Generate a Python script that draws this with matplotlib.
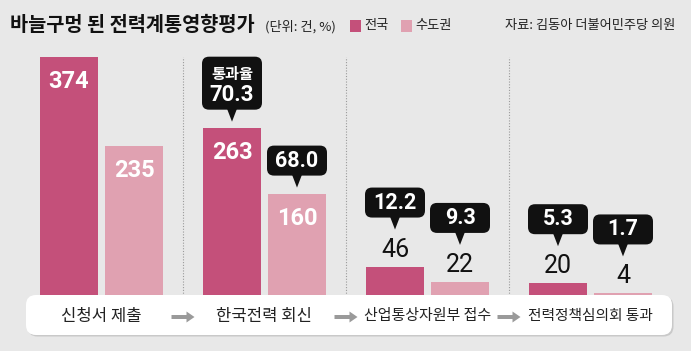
import numpy as np
import matplotlib.pyplot as plt
import matplotlib.patches as mpatches
import matplotlib.transforms as mtransforms
from matplotlib import font_manager as fm

# 단위: 건, %
stages = ['신청서 제출', '한국전력 회신', '산업통상자원부 접수', '전력정책심의회 통과']
nation = [374, 263, 46, 20]
capital = [235, 160, 22, 4]
nation_rate = [None, 70.3, 12.2, 5.3]
capital_rate = [None, 68.0, 9.3, 1.7]


def pick(names):
    for n in names:
        try:
            fm.findfont(n, fallback_to_default=False)
            return n
        except Exception:
            pass
    return 'DejaVu Sans'


NUM = pick(['Liberation Sans Narrow', 'DejaVu Sans Condensed', 'Roboto', 'DejaVu Sans'])
KR = 'Noto Sans CJK KR'
DARK = '#c4507a'
LIGHT = '#e0a1b1'
BG = '#e8e8e8'
W, H = 691, 351

fig = plt.figure(figsize=(W / 100, H / 100), dpi=100)
fig.patch.set_facecolor(BG)
ax = fig.add_axes([0, 0, 1, 1])
ax.axis('off')

# 픽셀 기준: 그룹 간격 163px, 1건 = 0.64px, 기준선 y=296px
gx, gy, base, x0 = 163, 0.64, 296, 101.5
ax.set_xlim(-x0 / gx, (W - x0) / gx)
ax.set_ylim(-(H - base) / gy, base / gy)

x = np.arange(len(stages))
bw = 58 / gx
off = 32.5 / gx
ax.bar(x - off, nation, width=bw, color=DARK, zorder=2)
ax.bar(x + off, capital, width=bw, color=LIGHT, zorder=2)

ax.vlines(x[:-1] + 0.5, 0, max(nation), colors='#9a9a9a',
          linestyles=(0, (1, 1.5)), lw=0.8, zorder=1)

# 막대 값
for xs, vals in ((x - off, nation), (x + off, capital)):
    for xi, v in zip(xs, vals):
        if v > 100:
            ax.annotate(str(v), (xi, v), xytext=(0, -25), textcoords='offset pixels',
                        ha='center', va='center', color='white', fontsize=17,
                        fontweight='bold', family=NUM, zorder=4)
        else:
            ax.annotate(str(v), (xi, v), xytext=(0, 17), textcoords='offset pixels',
                        ha='center', va='center', color='#111111', fontsize=18,
                        family=NUM, zorder=4)


def callout(xi, v, rate, head=None):
    tip = 6 if v > 100 else 37
    tr = mtransforms.Affine2D().translate(0, tip) + \
        mtransforms.ScaledTranslation(xi, v, ax.transData)
    h = 53 if head else 30
    box = mpatches.FancyBboxPatch((-30, 12), 60, h,
                                  boxstyle='round,pad=0,rounding_size=7',
                                  fc='#111111', ec='none', transform=tr, zorder=5)
    tri = mpatches.Polygon([(-5, 13), (5, 13), (0, 0)], closed=True,
                           fc='#111111', ec='none', transform=tr, zorder=5)
    ax.add_patch(box)
    ax.add_patch(tri)
    if head:
        ax.text(0, 48, head, transform=tr, ha='center', va='center', color='white',
                fontsize=11, fontweight='bold', family=KR, zorder=6)
        ax.text(0, 27, f'{rate:.1f}', transform=tr, ha='center', va='center',
                color='white', fontsize=16, fontweight='bold', family=NUM, zorder=6)
    else:
        ax.text(0, 27, f'{rate:.1f}', transform=tr, ha='center', va='center',
                color='white', fontsize=15.5, fontweight='bold', family=NUM, zorder=6)


for i in range(len(stages)):
    if nation_rate[i] is not None:
        callout(x[i] - off, nation[i], nation_rate[i], head='통과율' if i == 1 else None)
    if capital_rate[i] is not None:
        callout(x[i] + off, capital[i], capital_rate[i])

# 하단 단계 상자 (픽셀, 위에서부터)
pix = mtransforms.Affine2D().scale(1, -1).translate(0, H)
shadow = mpatches.FancyBboxPatch((27.5, 296.5), 646, 40,
                                 boxstyle='round,pad=0,rounding_size=10',
                                 fc='#c9c9c9', ec='none', transform=pix, zorder=6, clip_on=False)
box = mpatches.FancyBboxPatch((26, 295), 646, 40,
                              boxstyle='round,pad=0,rounding_size=10',
                              fc='white', ec='none', transform=pix, zorder=7, clip_on=False)
ax.add_patch(shadow)
ax.add_patch(box)

btr = mtransforms.blended_transform_factory(ax.transData, pix)
sizes = [12, 12, 10.8, 10.6]
for i, s in enumerate(stages):
    ax.text(x[i], 316, s, transform=btr, ha='center', va='center', fontsize=sizes[i],
            family=KR, color='#222222', zorder=8)
for i in range(len(stages) - 1):
    cx = ax.transData.transform((x[i] + 0.5, 0))[0]
    arr = mpatches.FancyArrow(cx - 11.5, 317, 23, 0, width=4, head_width=11,
                              head_length=8, length_includes_head=True,
                              fc='#9a9a9a', ec='none', transform=pix, zorder=8)
    ax.add_patch(arr)

# 제목, 범례, 출처
ax.text(10, 25, '바늘구멍 된 전력계통영향평가', transform=pix, ha='left', va='center',
        fontsize=14.2, fontweight='bold', family=KR, color='#111111')
ax.text(265, 27, '(단위: 건, %)', transform=pix, ha='left', va='center',
        fontsize=9.5, family=KR, color='#222222')
for sx, c, lab in ((350, DARK, '전국'), (401, LIGHT, '수도권')):
    ax.add_patch(mpatches.Rectangle((sx, 20), 11, 12, fc=c, ec='none', transform=pix))
    ax.text(sx + 14, 26, lab, transform=pix, ha='left', va='center',
            fontsize=9.5, family=KR, color='#222222')
ax.text(675, 26, '자료: 김동아 더불어민주당 의원', transform=pix, ha='right', va='center',
        fontsize=9.5, family=KR, color='#222222')

fig.savefig('out.png', dpi=100, facecolor=BG)
